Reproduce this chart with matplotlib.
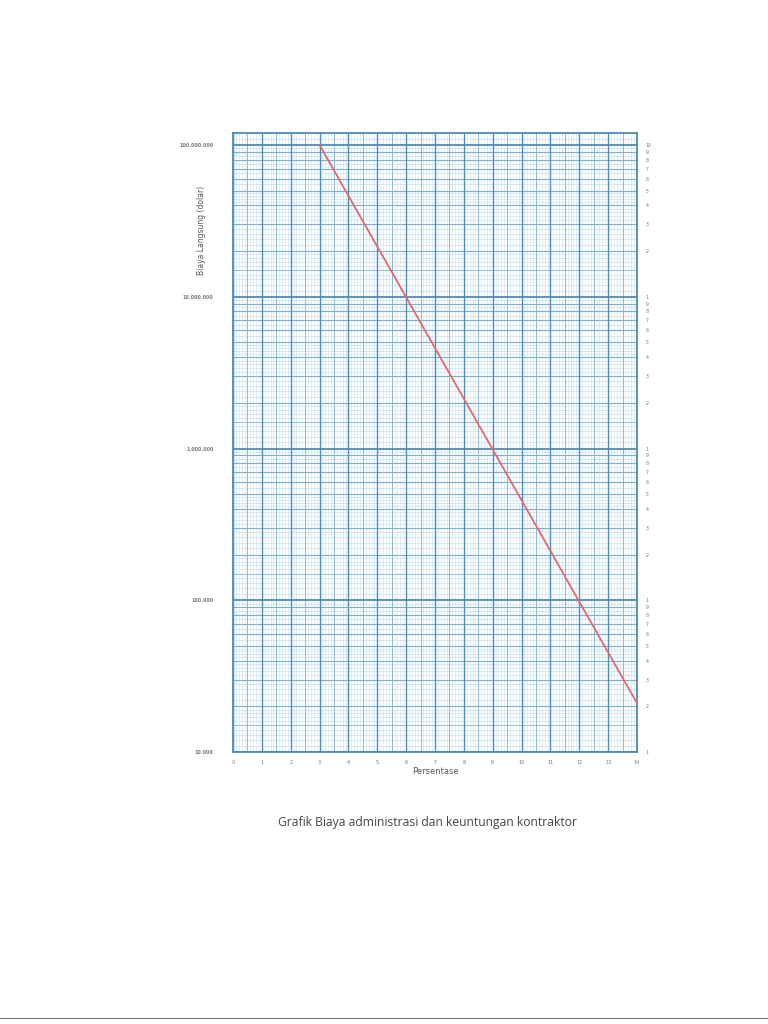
import numpy as np
import matplotlib
matplotlib.use("Agg")
import matplotlib.pyplot as plt
from matplotlib.lines import Line2D

# data
line_x = [3, 14]
line_y = [100_000_000, 21_000]

x_ticks = list(range(0, 15))
y_ticks = [10_000, 100_000, 1_000_000, 10_000_000, 100_000_000]
y_labels = ["10.000", "100.000", "1.000.000", "10.000.000", "100.000.000"]
decades = [10_000, 100_000, 1_000_000, 10_000_000]
right_digits = [1, 2, 3, 4, 5, 6, 7, 8, 9]

caption = "Grafik Biaya administrasi dan keuntungan kontraktor"

dark = "#4f8ab8"
mid = "#7fb0d2"
light = "#c6e2f2"

fig = plt.figure(figsize=(7.68, 10.24), dpi=100)
ax = fig.add_axes([0.3034, 0.2656, 0.526, 0.6045])
ax.set_yscale("log")
ax.set_xlim(0, 14)
ax.set_ylim(10_000, 1.2e8)

# vertical rulings of the graph paper
for v in np.arange(0, 14.01, 0.1):
    ax.axvline(v, color=light, lw=0.4, zorder=1)
for v in np.arange(0.5, 14, 1.0):
    ax.axvline(v, color=mid, lw=0.6, zorder=2)
for v in x_ticks:
    ax.axvline(v, color=dark, lw=1.0, zorder=3)

# horizontal log rulings
for d in decades:
    for m in np.arange(1.1, 2.0, 0.1):
        ax.axhline(m * d, color=light, lw=0.5, zorder=1)
    for m in np.arange(2.2, 5.0, 0.2):
        ax.axhline(m * d, color=light, lw=0.5, zorder=1)
    for m in np.arange(5.5, 10.0, 0.5):
        ax.axhline(m * d, color=light, lw=0.5, zorder=1)
    ax.axhline(1.5 * d, color=mid, lw=0.5, zorder=2)
    for m in right_digits[1:]:
        ax.axhline(m * d, color=mid, lw=0.8, zorder=2)
    ax.axhline(d, color=dark, lw=1.3, zorder=3)
ax.axhline(100_000_000, color=dark, lw=1.3, zorder=3)
ax.axhline(1.1e8, color=light, lw=0.5, zorder=1)

ax.plot(line_x, line_y, color="#e06a6a", lw=1.3, zorder=5)

ax.set_xticks(x_ticks)
ax.set_xticklabels([str(t) for t in x_ticks], fontsize=3.5, color="#777777")
ax.set_yticks(y_ticks)
ax.set_yticklabels(y_labels, fontsize=3.5, color="#777777", fontweight="bold")
ax.minorticks_off()
ax.tick_params(axis="both", length=0)
ax.tick_params(axis="y", pad=14)
ax.tick_params(axis="x", pad=6)

for s in ax.spines.values():
    s.set_color(dark)
    s.set_linewidth(1.3)

# right side mantissa labels
ax2 = ax.twinx()
ax2.set_yscale("log")
ax2.set_ylim(ax.get_ylim())
r_ticks, r_labels = [], []
for d in decades:
    for m in right_digits:
        r_ticks.append(m * d)
        r_labels.append(str(m))
r_ticks.append(100_000_000)
r_labels.append("10")
ax2.set_yticks(r_ticks)
ax2.set_yticklabels(r_labels, fontsize=3.3, color="#777777")
ax2.minorticks_off()
ax2.tick_params(axis="y", length=0, pad=6)
for s in ax2.spines.values():
    s.set_visible(False)

ax.set_xlabel("Persentase", fontsize=6, color="#555555", labelpad=1)
ax.set_ylabel("Biaya Langsung (dolar)", fontsize=5.5, color="#555555")
ax.yaxis.set_label_coords(-0.068, 0.842)

fig.text(0.557, 0.197, caption, fontsize=8.7, family=["Open Sans", "DejaVu Sans"],
         color="#444444", ha="center", va="center")

fig.add_artist(Line2D([0, 1], [0.006, 0.006], color="#777777", lw=0.8))

fig.savefig("out.png", dpi=100)
